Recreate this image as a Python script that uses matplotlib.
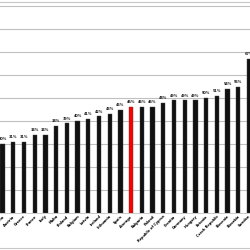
import numpy as np
import matplotlib
matplotlib.use("Agg")
import matplotlib.pyplot as plt
from matplotlib.lines import Line2D

# data (cropped view)
countries = ["Romania", "Austria", "Greece", "France", "Italy", "Malta", "Finland",
             "Belgium", "Latvia", "Ireland", "Lithuania", "Spain", "Average",
             "Bulgaria", "Poland", "Republic of Cyprus", "Croatia", "Germany",
             "Hungary", "Estonia", "Czech Republic", "Slovenia", "Slovakia", "Sweden"]
values = [30, 31, 31, 34, 34, 38, 39, 40, 41, 42, 43, 45, 46,
          46, 46, 48, 49, 49, 49, 50, 51, 54, 55, 67]
highlight = "Average"

fig = plt.figure(figsize=(2.5, 2.5), dpi=100)
ax = fig.add_axes([0, 37/250, 1, 211/250])

x = np.arange(len(countries))
colors = ["#ff0000" if c == highlight else "#111111" for c in countries]
ax.bar(x, values, width=0.4, color=colors, edgecolor="#444444", linewidth=0.3, zorder=3)

for xi, v in zip(x, values):
    ax.text(xi, v + 1.2, f"{v}%", ha="center", va="bottom", fontsize=2.5,
            fontweight="bold", color="#222222", zorder=4)

ax.set_xlim(-2.5/10.72, 23 + 1/10.72)
ax.set_ylim(0, 211/2.3)
ax.set_yticks(np.arange(10, 100, 10))
ax.yaxis.grid(True, color="#c0c0c0", linewidth=0.8, zorder=0)
ax.tick_params(axis="y", length=0, labelleft=False)
ax.tick_params(axis="x", length=0, pad=1)
ax.set_xticks(x)
ax.set_xticklabels(countries, rotation=45, ha="right", rotation_mode="anchor",
                   fontsize=2.5, fontweight="bold")
for s in ["left", "right"]:
    ax.spines[s].set_visible(False)
ax.spines["top"].set_color("#c8c8c8")
ax.spines["bottom"].set_color("#c0c0c0")
ax.spines["bottom"].set_linewidth(0.6)

# light border at bottom of the chart area
fig.add_artist(Line2D([0, 1], [2/250, 2/250], color="#c8c8c8", linewidth=0.8))

fig.savefig("out.png", dpi=100)
